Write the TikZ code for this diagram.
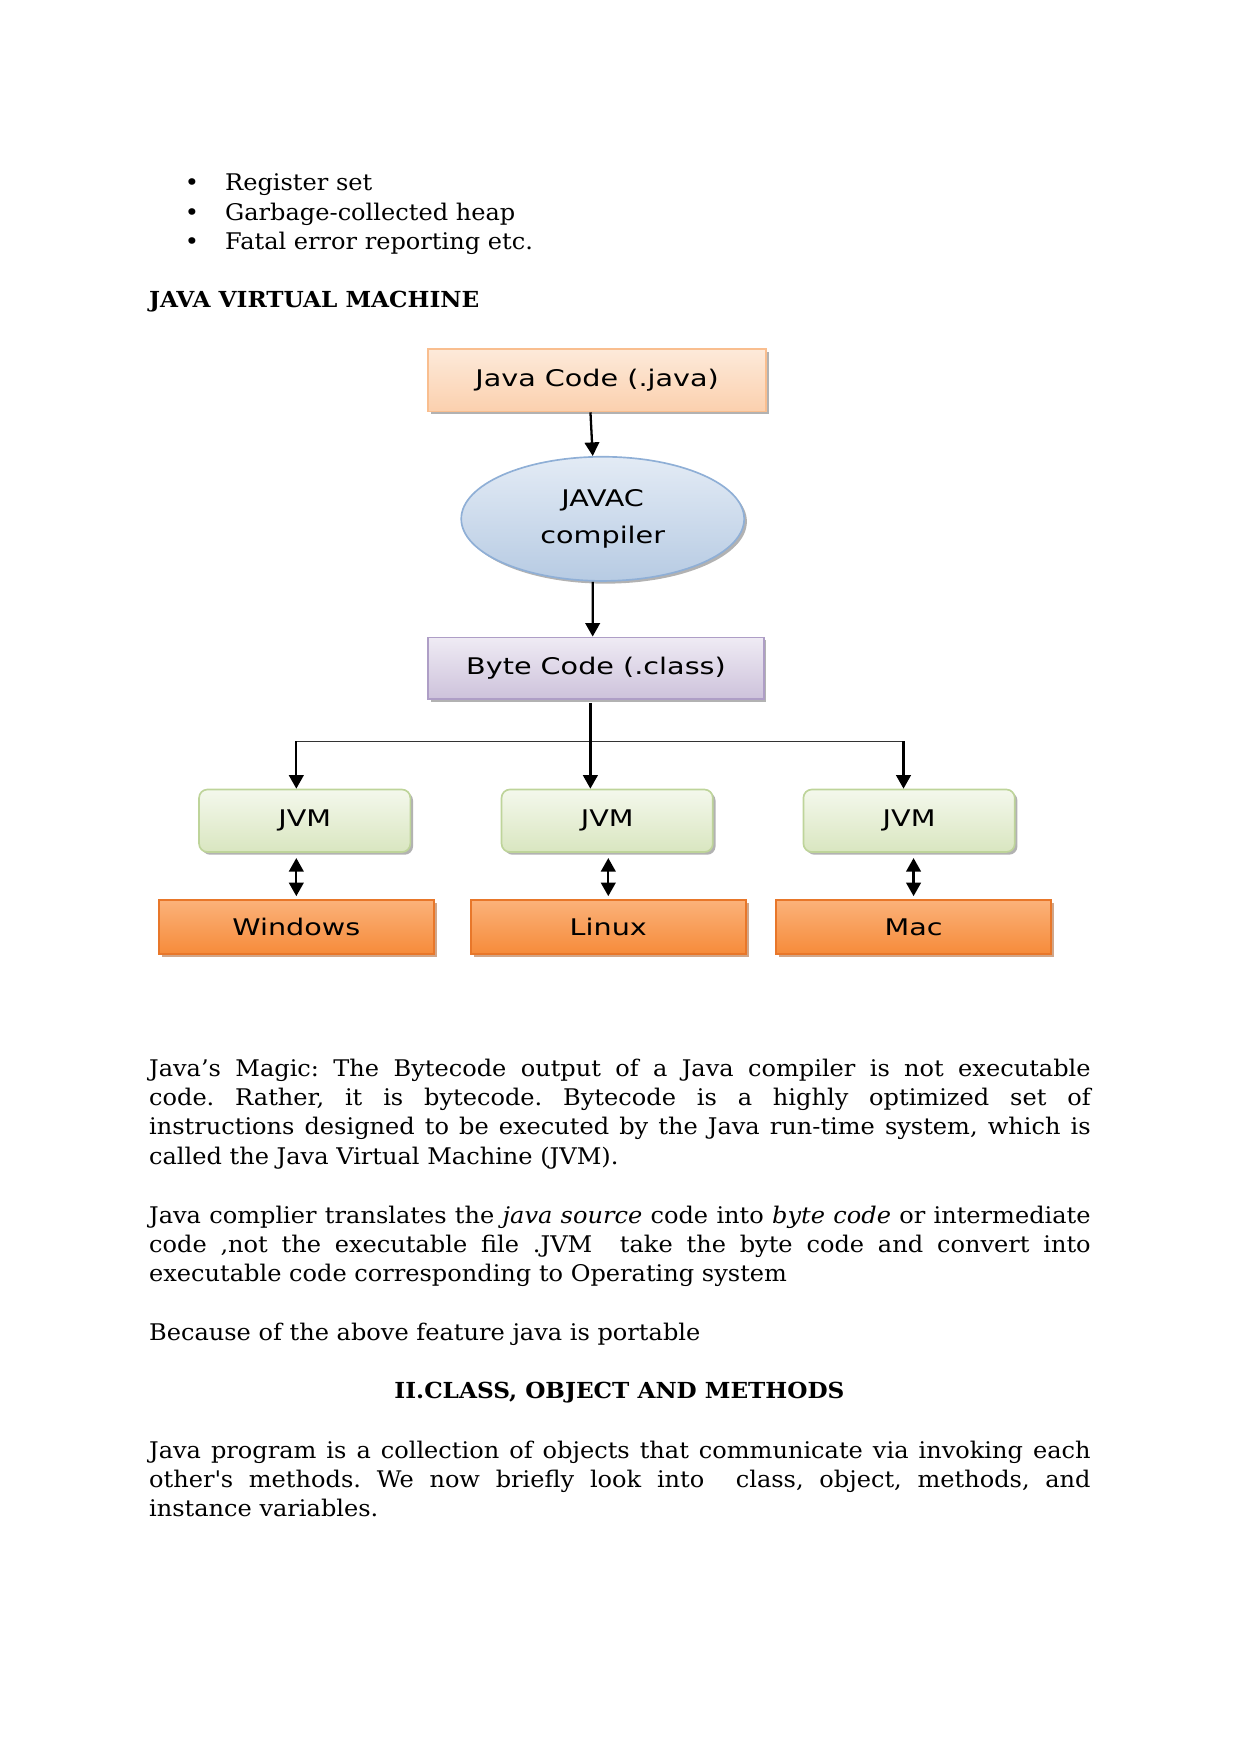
\documentclass[tikz,border=0pt]{standalone}
\usepackage{fontspec}
\setmainfont{DejaVu Serif}[FakeStretch=1.05]
\newfontfamily\diagfont[FakeStretch=1.25]{DejaVu Sans}
\usetikzlibrary{positioning, arrows.meta, shapes.geometric, shadows}

\definecolor{codetop}{HTML}{FDEADA}
\definecolor{codebot}{HTML}{FBD0AE}
\definecolor{codeline}{HTML}{F9BE8F}
\definecolor{javactop}{HTML}{E3EBF5}
\definecolor{javacbot}{HTML}{B7CBE3}
\definecolor{javacline}{HTML}{8FAFD6}
\definecolor{bytetop}{HTML}{EFEBF4}
\definecolor{bytebot}{HTML}{CDC2DB}
\definecolor{byteline}{HTML}{AE9EC6}
\definecolor{jvmtop}{HTML}{F4F8EC}
\definecolor{jvmbot}{HTML}{D9E6C0}
\definecolor{jvmline}{HTML}{BED49A}
\definecolor{ostop}{HTML}{FBB27A}
\definecolor{osbot}{HTML}{F68B3A}
\definecolor{osline}{HTML}{E8772A}
\definecolor{osshadow}{HTML}{A44E14}

\begin{document}
\begin{tikzpicture}[
        x=0.5367pt, y=-0.5367pt,
        body/.style={anchor=base west, inner sep=0pt, font=\fontsize{11}{13.95}\selectfont\frenchspacing},
        para/.style={body, text width=451.9pt, align=justify},
        head/.style={body, font=\bfseries\fontsize{10.6}{13.95}\selectfont},
        diag/.style={font=\diagfont\fontsize{11}{18}\selectfont, line width=0.8pt},
        shade/.style={drop shadow={shadow xshift=1.3pt, shadow yshift=-1.3pt, opacity=0.3, fill=black}},
        codebox/.style={diag, shade, draw=codeline, top color=codetop, bottom color=codebot,
                minimum width=162.1pt, minimum height=30pt},
        bytebox/.style={diag, shade, draw=byteline, top color=bytetop, bottom color=bytebot,
                minimum width=161pt, minimum height=29.5pt},
        compiler/.style={diag, shade, ellipse, draw=javacline, top color=javactop, bottom color=javacbot,
                minimum width=135.8pt, minimum height=59.6pt, align=center},
        jvmbox/.style={diag, shade, draw=jvmline, rounded corners=4pt, top color=jvmtop, bottom color=jvmbot,
                minimum width=101.4pt, minimum height=30pt},
        osbox/.style={diag, draw=osline, top color=ostop, bottom color=osbot,
                drop shadow={shadow xshift=1.4pt, shadow yshift=-1.4pt, fill=osshadow},
                minimum width=132pt, minimum height=25.8pt},
        arr/.style={line width=1.1pt, -{Triangle[width=7pt, length=6.5pt]}},
        darr/.style={line width=1.1pt, {Triangle[width=7pt, length=6.5pt]}-{Triangle[width=7pt, length=6.5pt]},
                shorten <=2.5pt, shorten >=1.5pt}
    ]
    \useasboundingbox (0,0) rectangle (1109,1568.6);

    % list at the top of the page
    \node[body] (dot1) at (165,170) {\textbullet};
    \node[body] (dot2) at (165,197) {\textbullet};
    \node[body] (dot3) at (165,223) {\textbullet};
    \node[body] (item1) at (201,170) {Register set};
    \node[body] (item2) at (201,197) {Garbage-collected heap};
    \node[body] (item3) at (201,223) {Fatal error reporting etc.};

    % heading
    \node[head] (jvmhead) at (133,275) {JAVA VIRTUAL MACHINE};

    % Java code and compiler
    \node[codebox] (javacode) at (534,340) {Java Code (.java)};
    \node[compiler] (javac) at (539,464) {JAVAC\\compiler};
    \node[bytebox] (bytecode) at (533,597.5) {Byte Code (.class)};

    % one JVM per system
    \node[jvmbox] (jvmwin) at (272.5,734) {JVM};
    \node[jvmbox] (jvmlin) at (543,734) {JVM};
    \node[jvmbox] (jvmmac) at (813,734) {JVM};

    % operating systems
    \node[osbox] (win) at (265,829) {Windows};
    \node[osbox] (lin) at (544,829) {Linux};
    \node[osbox] (mac) at (817,829) {Mac};

    % connectors
    \draw[arr] ([xshift=-3.2pt]javacode.south) -- ([xshift=-4.8pt]javac.north);
    \draw[arr] ([xshift=-4.8pt]javac.south) -- ([xshift=-1.6pt]bytecode.north);
    \coordinate (bs) at ([xshift=-2.7pt, yshift=-1.5pt]bytecode.south);
    \coordinate (forkl) at (265,663);
    \coordinate (forkr) at (808,663);
    \draw[line width=0.8pt, black!80] (forkl) -- (forkr);
    \draw[arr] (bs) -- (bs |- jvmlin.north);
    \draw[arr] (forkl) -- (forkl |- jvmwin.north);
    \draw[arr] (forkr) -- (forkr |- jvmmac.north);
    \draw[darr] (win.north |- jvmwin.south) -- (win.north);
    \draw[darr] (lin.north |- jvmlin.south) -- (lin.north);
    \draw[darr] (mac.north |- jvmmac.south) -- (mac.north);

    % text below the picture
    \node[para] (magic) at (133,963) {Java’s Magic: The Bytecode output of a Java compiler is not executable\linebreak
        code. Rather, it is bytecode. Bytecode is a highly optimized set of\linebreak
        instructions designed to be executed by the Java run-time system, which is\linebreak
        called the Java Virtual Machine (JVM).};
    \node[para] (complier) at (133,1094) {Java complier translates the \emph{java source} code into \emph{byte code} or intermediate\linebreak
        code ,not the executable file .JVM\ \ take the byte code and convert into\linebreak
        executable code corresponding to Operating system};
    \node[body] (portable) at (133,1199) {Because of the above feature java is portable};
    \node[head, anchor=base] (classhead) at (554,1251) {II.CLASS, OBJECT AND METHODS};
    \node[para] (program) at (133,1304) {Java program is a collection of objects that communicate via invoking each\linebreak
        other\textquotesingle s methods. We now briefly look into\ \ class, object, methods, and\linebreak
        instance variables.};
\end{tikzpicture}
\end{document}
